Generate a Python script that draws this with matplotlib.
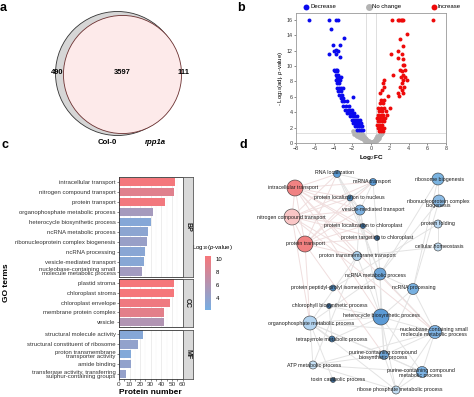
import matplotlib
matplotlib.use('Agg')
import matplotlib.pyplot as plt
import numpy as np
from matplotlib.patches import Circle, Rectangle
from matplotlib.colors import LinearSegmentedColormap, Normalize
from matplotlib.cm import ScalarMappable
from matplotlib.lines import Line2D

plt.rcParams['font.family'] = ['Liberation Sans', 'DejaVu Sans']
plt.rcParams['mathtext.fontset'] = 'custom'
plt.rcParams['mathtext.rm'] = 'Liberation Sans'
plt.rcParams['mathtext.it'] = 'Liberation Sans:italic'
plt.rcParams['mathtext.bf'] = 'Liberation Sans:bold'

# ---------------- DATA ----------------
# (a) Venn
venn_only_col0 = 490
venn_both = 3597
venn_only_rpp1a = 111
venn_names = ["Col-0", "rpp1a"]

# (b) Volcano
dec_x = [-6.6, -4.5, -3.75, -3.55, -4.3, -2.9, -4.09, -3.3, -3.7, -3.9, -3.48, -4.44, -3.73, -3.3,
         -3.91, -3.77, -3.66, -3.84, -3.59, -3.77, -3.48, -3.66, -3.38, -3.2, -3.73, -3.52, -3.31,
         -3.59, -3.38, -3.66, -3.45, -3.24, -3.02, -3.48, -3.24, -3.38, -3.13, -1.9, -3.24, -3.02,
         -3.13, -2.88, -2.6, -2.95, -2.67, -2.38, -2.77, -2.49, -2.24, -2.03, -2.6, -2.31, -2.06,
         -1.81, -2.24, -1.96, -1.71, -1.46, -2.06, -1.81, -1.6, -1.35, -1.17, -1.88, -1.67, -1.46,
         -1.24, -1.1, -1.71, -1.53, -1.32, -1.1, -0.96, -1.46, -1.24, -1.03, -0.89]
dec_y = [16, 16, 16, 16, 14.8, 13.7, 12.7, 12.8, 12.1, 12.0, 12.0, 11.6, 11.6, 11.2,
         9.5, 9.5, 9.5, 9.3, 9.3, 8.9, 8.9, 8.6, 8.6, 8.6, 8.2, 8.2, 8.2,
         7.8, 7.8, 7.1, 7.1, 7.1, 7.1, 6.7, 6.7, 6.3, 6.3, 6.0, 5.8, 5.8,
         5.4, 5.4, 5.4, 4.8, 4.8, 4.8, 4.3, 4.3, 4.3, 4.3, 3.9, 3.9, 3.9,
         3.9, 3.5, 3.5, 3.5, 3.5, 3.0, 3.0, 3.0, 3.0, 3.0, 2.6, 2.6, 2.6,
         2.6, 2.6, 2.2, 2.2, 2.2, 2.2, 2.2, 1.7, 1.7, 1.7, 1.7]
inc_x = [2.2, 2.85, 3.0, 3.15, 3.3, 3.45, 6.65, 3.88, 3.09, 3.45, 2.92, 2.1, 3.27, 2.84, 3.45,
         3.38, 3.52, 3.09, 3.63, 3.27, 2.38, 3.45, 3.63, 3.16, 1.39, 3.45, 3.8, 1.24, 3.27,
         1.42, 3.09, 3.56, 1.17, 3.27, 0.96, 2.92, 3.45, 1.85, 3.02, 1.03, 1.42, 0.96, 1.24,
         0.78, 1.06, 1.39, 2.03, 0.89, 1.17, 1.56, 0.78, 1.03, 1.31, 1.74, 0.68, 0.96, 1.24,
         1.53, 0.71, 0.89, 1.13, 1.39, 0.68, 0.96, 1.2, 0.75, 0.96, 1.17, 1.39, 0.82, 1.03, 1.24]
inc_y = [16, 16, 16, 16, 16, 16, 16, 14.2, 13.5, 12.6, 11.9, 11.6, 11.6, 11.0, 10.9,
         10.2, 10.2, 9.5, 9.5, 9.3, 8.9, 8.9, 8.6, 8.6, 8.2, 8.2, 8.2, 7.8, 7.8,
         7.3, 7.3, 7.3, 6.9, 6.9, 6.5, 6.5, 6.5, 6.05, 6.05, 5.6, 5.6, 5.2, 5.2,
         4.5, 4.5, 4.5, 4.5, 4.1, 4.1, 4.1, 3.7, 3.7, 3.7, 3.7, 3.2, 3.2, 3.2,
         3.2, 2.8, 2.8, 2.8, 2.8, 2.4, 2.4, 2.4, 1.9, 1.9, 1.9, 1.9, 1.6, 1.6, 1.6]
nc_x = [-1.9, -1.8, -1.7, -1.6, -1.5, -1.45, -1.35, -1.3, -1.25, -1.2, -1.1, -1.05, -1.0, -0.95,
        -0.9, -0.85, -0.8, -0.75, -0.7, -0.65, -0.6, -0.55, -0.5, -0.45, -0.4, -0.35, -0.3,
        -0.25, -0.2, -0.15, -0.1, -0.05, 0.0, 0.05, 0.1, 0.15, 0.2, 0.25, 0.3, 0.35, 0.4,
        0.45, 0.5, 0.55, 0.6, 0.65, 0.7, 0.75, 0.8, 0.85, 0.9, 0.95, 1.0, 1.05, 1.1, 1.15,
        -1.55, -1.4, -1.15, -0.6, 0.5, 0.62]
nc_y = [1.5, 1.2, 1.4, 1.1, 1.3, 0.95, 1.15, 0.8, 1.25, 1.0, 0.7, 0.9, 1.2, 0.6,
        0.85, 1.05, 0.5, 0.7, 0.4, 0.6, 0.3, 0.5, 0.25, 0.4, 0.2, 0.3, 0.12,
        0.2, 0.08, 0.12, 0.03, 0.06, 0.02, 0.05, 0.04, 0.1, 0.07, 0.15, 0.12, 0.25, 0.2,
        0.35, 0.3, 0.5, 0.4, 0.65, 0.55, 0.8, 0.7, 0.95, 0.85, 1.1, 1.0, 1.25, 1.15, 1.3,
        1.6, 1.45, 1.3, 0.7, 0.6, 0.9]
volcano_labels = ["Decrease", "No change", "Increase"]
fc_cut = 0.58
p_cut = 1.3

# (c) GO bar chart
bp_terms = ["intracellular transport", "nitrogen compound transport", "protein transport",
            "organophosphate metabolic process", "heterocycle biosynthetic process",
            "ncRNA metabolic process", "ribonucleoprotein complex biogenesis", "ncRNA processing",
            "vesicle-mediated transport", "nucleobase-containing small\nmolecule metabolic process"]
bp_counts = [52.5, 51.7, 43.8, 32.4, 30.5, 27.3, 26.3, 24.1, 24.0, 22.2]
bp_logp = [10.3, 9.0, 10.2, 5.2, 3.2, 3.6, 4.4, 3.4, 3.3, 5.0]
cc_terms = ["plastid stroma", "chloroplast stroma", "chloroplast envelope",
            "membrane protein complex", "vesicle"]
cc_counts = [52.4, 52.0, 48.6, 42.9, 42.5]
cc_logp = [10.4, 10.4, 10.0, 9.2, 6.0]
mf_terms = ["structural molecule activity", "structural constituent of ribosome",
            "proton transmembrane\ntransporter activity", "amide binding",
            "transferase activity, transferring\nsulphur-containing groups"]
mf_counts = [22.5, 17.8, 11.4, 11.4, 6.3]
mf_logp = [3.2, 4.0, 3.0, 4.0, 4.2]
go_categories = ["BP", "CC", "MF"]
go_ticks = [0, 10, 20, 30, 40, 50, 60]
cbar_ticks = [4, 6, 8, 10]

# (d) Network (layout coordinates in figure pixel space)
node_labels = ["RNA localization", "intracellular transport", "mRNA transport",
               "ribosome biogenesis", "protein localization to nucleus",
               "ribonucleoprotein complex\nbiogenesis", "vesicle-mediated transport",
               "nitrogen compound transport", "protein localization to chloroplast",
               "protein folding", "protein targeting to chloroplast", "protein transport",
               "cellular homeostasis", "proton transmembrane transport",
               "ncRNA metabolic process", "protein peptidyl-prolyl isomerization",
               "ncRNA processing", "chlorophyll biosynthetic process",
               "heterocycle biosynthetic process", "organophosphate metabolic process",
               "nucleobase-containing small\nmolecule metabolic process",
               "tetrapyrrole metabolic process", "purine-containing compound\nbiosynthetic process",
               "ATP metabolic process", "purine-containing compound\nmetabolic process",
               "toxin catabolic process", "ribose phosphate metabolic process"]
node_x = [337, 295, 373, 438, 350, 439, 360, 292, 363, 438, 377, 305, 438, 357, 380, 333, 413,
          329, 381, 310, 435, 332, 384, 313, 422, 333, 396]
node_y = [174, 188, 182, 179, 198, 201, 210, 217, 226, 224, 238, 244, 247, 256, 274, 288, 289,
          306, 317, 323, 332, 339, 355, 365, 372, 380, 390]
label_x = [335, 293, 372, 440, 349, 438, 373, 291, 363, 438, 377, 306, 439, 357, 375, 333, 414,
           330, 381, 311, 434, 332, 383, 314, 421, 338, 400]
label_y = [173, 188, 182, 179, 198, 203.5, 210, 217, 226, 224, 238, 244, 247, 256, 275, 288, 288,
           306, 316, 324, 332, 339, 355, 365, 373, 380, 390]
node_r = [3.5, 8, 3.5, 6, 3, 6, 5, 8, 2.5, 4, 2.5, 8, 4, 4.5, 6, 3, 5.5, 2.5, 8, 7, 6.5, 3, 4.5,
          4, 5.5, 2.5, 4]
node_color = ["#5b9bd5", "#f08283", "#5b9bd5", "#7ab3e0", "#4f8cc0", "#8bbbe5", "#7db1e0",
              "#f9c6c6", "#3d6f9e", "#b8d6f0", "#3d6f9e", "#f08080", "#c0dcf2", "#aacde8",
              "#6ba4d8", "#4a84b8", "#78b0e0", "#3a6a99", "#5b9ad5", "#b3d4f0", "#7fb3e3",
              "#4a80b0", "#6fa6d8", "#c5e0f5", "#7db3e3", "#3a6690", "#c0dcf2"]
edges = [(0, 1), (0, 2), (0, 4), (0, 6), (0, 7), (0, 11), (1, 2), (1, 4), (1, 6), (1, 7),
         (1, 8), (1, 10), (1, 11), (1, 13), (2, 4), (2, 6), (2, 7), (2, 11), (4, 6), (4, 7),
         (4, 8), (4, 11), (6, 7), (6, 8), (6, 11), (6, 13), (7, 8), (7, 10), (7, 11), (7, 13),
         (8, 10), (8, 11), (10, 11), (11, 13), (13, 18), (13, 19), (13, 23), (3, 5), (3, 14),
         (3, 16), (5, 14), (5, 16), (14, 16), (14, 18), (14, 20), (14, 19), (16, 18), (16, 20),
         (17, 21), (17, 18), (18, 19), (18, 20), (18, 21), (18, 22), (18, 24), (18, 26),
         (19, 20), (19, 22), (19, 23), (19, 24), (19, 26), (19, 21), (20, 22), (20, 24),
         (20, 26), (22, 23), (22, 24), (22, 26), (23, 24), (23, 26), (24, 26), (21, 19),
         (7, 19), (11, 19), (1, 18), (15, 9), (12, 13), (25, 19), (9, 12), (4, 14), (0, 14),
         (2, 14), (6, 18), (11, 22), (7, 20), (1, 20), (20, 23), (16, 22), (14, 22)]

# ---------------- FIGURE ----------------
W, H = 474, 397
fig = plt.figure(figsize=(W / 100, H / 100), dpi=100)


def px_axes(x0, y0, x1, y1, **kw):
    return fig.add_axes([x0 / W, 1 - y1 / H, (x1 - x0) / W, (y1 - y0) / H], **kw)


bg = px_axes(0, 0, W, H)
bg.set_xlim(0, W)
bg.set_ylim(H, 0)
bg.axis('off')

# panel letters
for lab, (lx, ly) in zip("abcd", [(0, 8), (237, 8), (1, 145), (240, 145)]):
    bg.text(lx, ly, lab, fontsize=9, fontweight='bold', ha='left', va='center')

# ---- (a) Venn ----
col0_total = venn_only_col0 + venn_both
rpp_total = venn_both + venn_only_rpp1a
k = 62 / np.sqrt(col0_total)
r1 = k * np.sqrt(col0_total)
r2 = k * np.sqrt(rpp_total)
c1 = (117.5, 73.5)
c2 = (122.5, 74.5)
bg.add_patch(Circle(c1, r1, facecolor='#d6d6d6', edgecolor='#333333', lw=0.6, zorder=1))
bg.add_patch(Circle(c2, r2, facecolor='#fdeaea', edgecolor='#6b3030', lw=0.6, zorder=2))
bg.text(57, 72, str(venn_only_col0), fontsize=5.4, fontweight='bold', ha='center', va='center', zorder=3)
bg.text(122, 72, str(venn_both), fontsize=5.4, fontweight='bold', ha='center', va='center', zorder=3)
bg.text(184, 72, str(venn_only_rpp1a), fontsize=5.4, fontweight='bold', ha='center', va='center', zorder=3)
bg.text(107, 143, venn_names[0], fontsize=5.6, fontweight='bold', ha='center', va='center')
bg.text(155, 143, venn_names[1], fontsize=5.6, fontweight='bold', style='italic', ha='center', va='center')

# ---- (b) Volcano ----
axb = px_axes(296, 13, 446, 143)
axb.axvline(-fc_cut, color='#d9d9d9', lw=0.6, zorder=0)
axb.axvline(fc_cut, color='#d9d9d9', lw=0.6, zorder=0)
axb.axhline(p_cut, color='#d9d9d9', lw=0.6, zorder=0)
h_nc = axb.scatter(nc_x, nc_y, s=11, color='#b3b3b3', lw=0, zorder=1)
h_dec = axb.scatter(dec_x, dec_y, s=8, color='#0a0aee', lw=0, zorder=2)
h_inc = axb.scatter(inc_x, inc_y, s=8, color='#ee0a0a', lw=0, zorder=2)
axb.set_xlim(-8, 8)
axb.set_ylim(0, 16.9)
axb.set_xticks(range(-8, 9, 2))
axb.set_yticks(range(0, 17, 2))
axb.tick_params(labelsize=3.9, length=1.5, width=0.4, pad=1, colors='#333333')
for s in axb.spines.values():
    s.set_color('#999999')
    s.set_linewidth(0.6)
axb.set_xlabel(r"Log$_{2}$FC", fontsize=4.6, fontweight='bold', labelpad=1)
axb.set_ylabel(r"- Log$_{10}$(adj. $p$-value)", fontsize=4.3, labelpad=1)
leg = axb.legend([h_dec, h_nc, h_inc], volcano_labels, ncol=3, loc='lower center',
                 bbox_to_anchor=(0.575, 1.0), frameon=False, fontsize=4.3, markerscale=1.5,
                 handletextpad=0.1, handlelength=1.0, columnspacing=5.0, borderaxespad=0.2)

# ---- (c) GO bars ----
cmap = LinearSegmentedColormap.from_list('go', ['#76aee3', '#f7767a'])
norm = Normalize(vmin=2.2, vmax=10.5)
facets = [(bp_terms, bp_counts, bp_logp, 177, 276.5),
          (cc_terms, cc_counts, cc_logp, 278.5, 327),
          (mf_terms, mf_counts, mf_logp, 329.5, 379)]
for i, (terms, counts, logp, y0, y1) in enumerate(facets):
    ax = px_axes(119, y0, 182.5, y1)
    n = len(terms)
    ypos = np.arange(n)
    ax.set_axisbelow(True)
    ax.barh(ypos, counts, height=0.85, color=cmap(norm(np.array(logp))), zorder=2)
    ax.set_ylim(n - 0.5, -0.5)
    ax.set_xlim(0, 60)
    ax.set_xticks(go_ticks)
    ax.set_xticks([5, 15, 25, 35, 45, 55], minor=True)
    ax.grid(True, which='major', axis='x', color='#e6e6e6', lw=0.5)
    ax.grid(True, which='minor', axis='x', color='#f2f2f2', lw=0.3)
    ax.set_yticks(ypos)
    ax.set_yticklabels(terms, fontsize=4.3, linespacing=0.85)
    ax.tick_params(axis='y', length=1.5, width=0.4, pad=1, colors='#333333')
    ax.tick_params(axis='x', which='both', length=1.5 if i == 2 else 0, width=0.4, pad=1,
                   labelsize=4.6, colors='#333333', labelbottom=(i == 2))
    for s in ax.spines.values():
        s.set_color('#333333')
        s.set_linewidth(0.6)
    if i == 2:
        ax.set_xlabel("Protein number", fontsize=6, fontweight='bold', labelpad=1)
    sx = px_axes(182.5, y0, 193, y1)
    sx.set_facecolor('#d9d9d9')
    sx.set_xticks([])
    sx.set_yticks([])
    for s in sx.spines.values():
        s.set_color('#555555')
        s.set_linewidth(0.6)
    sx.text(0.5, 0.5, go_categories[i], rotation=-90, fontsize=5, fontweight='bold',
            ha='center', va='center', transform=sx.transAxes, color='#1a1a1a')

bg.text(7, 283, "GO terms", rotation=90, fontsize=6, fontweight='bold', ha='center', va='center')

cax = px_axes(205, 256, 211, 310)
cb = fig.colorbar(ScalarMappable(norm=norm, cmap=cmap), cax=cax)
cb.set_ticks(cbar_ticks)
cb.outline.set_visible(False)
cax.tick_params(labelsize=4.3, length=1.2, width=0.4, color='white', pad=2)
bg.text(190, 248, r"-Log$_{10}$($p$-value)", fontsize=4.4, ha='left', va='center')

# ---- (d) Network ----
for a, b in edges:
    pink = node_color[a].startswith('#f') or node_color[b].startswith('#f')
    bg.plot([node_x[a], node_x[b]], [node_y[a], node_y[b]],
            color='#f0dede' if pink else '#e3e3e3', lw=0.7, zorder=1, solid_capstyle='round')
sizes = [(2 * r * 0.72) ** 2 for r in node_r]
bg.scatter(node_x, node_y, s=sizes, c=node_color, edgecolors='#333333', linewidths=0.4, zorder=2)
for lab, lx, ly in zip(node_labels, label_x, label_y):
    bg.text(lx, ly, lab, fontsize=3.8, ha='center', va='center', color='#1a1a1a',
            linespacing=0.95, zorder=3)

fig.savefig('out.png', dpi=100)
